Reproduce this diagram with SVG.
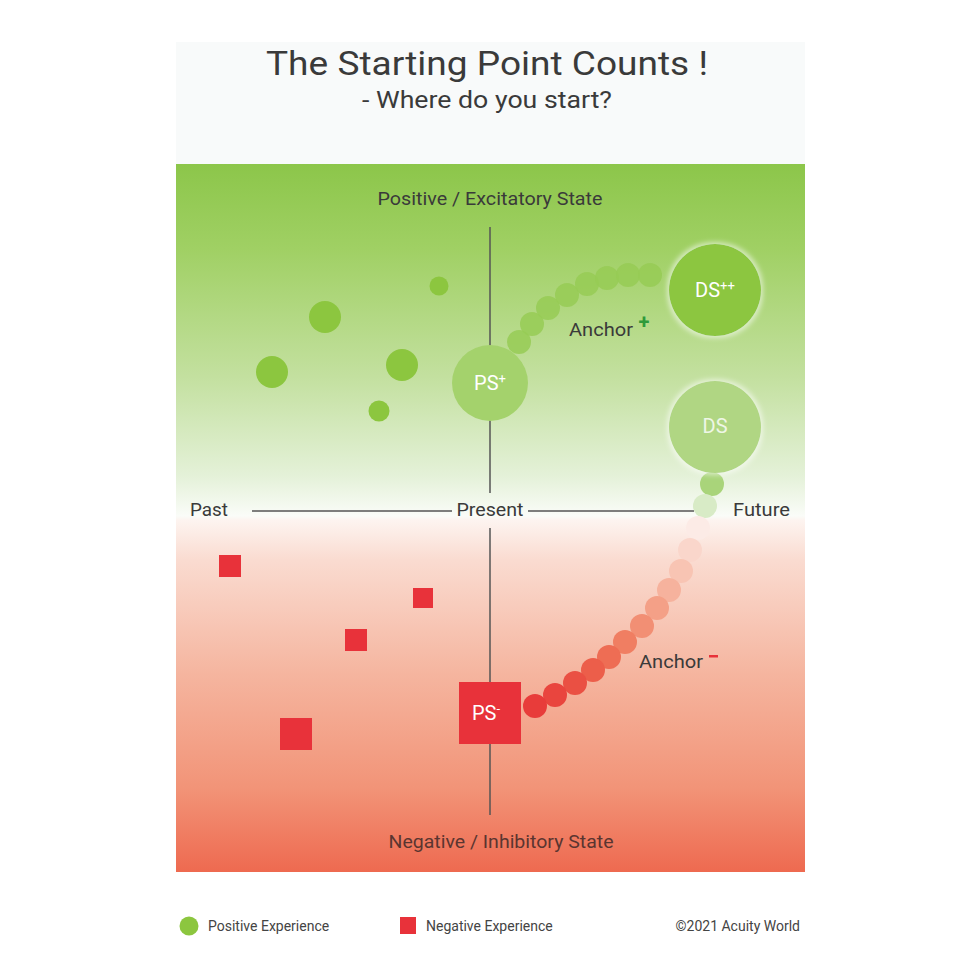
<svg xmlns="http://www.w3.org/2000/svg" width="980" height="980" viewBox="0 0 980 980">
<defs>
<linearGradient id="bg" x1="0" y1="0" x2="0" y2="1">
<stop offset="0" stop-color="#8cc64a"/>
<stop offset="0.12" stop-color="#a0d064"/>
<stop offset="0.3" stop-color="#c3e09f"/>
<stop offset="0.44" stop-color="#e4f1d8"/>
<stop offset="0.497" stop-color="#fafcf8"/>
<stop offset="0.503" stop-color="#fdf4f0"/>
<stop offset="0.56" stop-color="#fadbd0"/>
<stop offset="0.72" stop-color="#f5b59f"/>
<stop offset="0.88" stop-color="#f29478"/>
<stop offset="1" stop-color="#ee6a50"/>
</linearGradient>
<filter id="glow" x="-30%" y="-30%" width="160%" height="160%">
<feMorphology in="SourceAlpha" operator="dilate" radius="1.5" result="d"/>
<feGaussianBlur in="d" stdDeviation="2.5" result="b"/>
<feFlood flood-color="#ffffff" flood-opacity="0.55"/>
<feComposite in2="b" operator="in" result="g"/>
<feMerge><feMergeNode in="g"/><feMergeNode in="SourceGraphic"/></feMerge>
</filter>
<style>
.t{font-family:Roboto,"Liberation Sans",sans-serif;fill:#3a3a3a}
.ax{font-size:18px}
.nl{font-family:Roboto,"Liberation Sans",sans-serif;fill:#ffffff;font-size:20px}
.axis{stroke:#555;stroke-width:1.5;fill:none}
.exp{fill:#8cc63f}
.neg{fill:#e8323a}
.cg{fill:#96cb55;opacity:0.85}
.lg{font-family:Roboto,"Liberation Sans",sans-serif;font-size:14px;fill:#444}
</style>
</defs>
<rect x="0" y="0" width="980" height="980" fill="#ffffff"/>
<rect x="176" y="42" width="629" height="122" fill="#f8fafa"/>
<rect x="176" y="164" width="629" height="708" fill="url(#bg)"/>

<g id="title">
<text class="t" x="487" y="75" text-anchor="middle" font-size="34" textLength="442" lengthAdjust="spacingAndGlyphs">The Starting Point Counts !</text>
<text class="t" x="487" y="108" text-anchor="middle" font-size="24" textLength="250" lengthAdjust="spacingAndGlyphs">- Where do you start?</text>
</g>

<g id="axes">
<line class="axis" x1="490" y1="227" x2="490" y2="493"/>
<line class="axis" x1="490" y1="528" x2="490" y2="815"/>
<line class="axis" x1="252" y1="511" x2="452" y2="511"/>
<line class="axis" x1="528" y1="511" x2="694" y2="511"/>
<text class="t ax" x="490" y="205" text-anchor="middle" textLength="225" lengthAdjust="spacingAndGlyphs">Positive / Excitatory State</text>
<text class="t ax" x="190" y="516" textLength="38" lengthAdjust="spacingAndGlyphs">Past</text>
<text class="t ax" x="490" y="516" text-anchor="middle" textLength="67" lengthAdjust="spacingAndGlyphs">Present</text>
<text class="t ax" x="733" y="516" textLength="57" lengthAdjust="spacingAndGlyphs">Future</text>
<text class="t ax" x="501" y="848" text-anchor="middle" textLength="225" lengthAdjust="spacingAndGlyphs" style="fill:#5a3530">Negative / Inhibitory State</text>
</g>

<g id="positive-experiences">
<circle class="exp" cx="439" cy="286" r="9.5"/>
<circle class="exp" cx="325" cy="317" r="16"/>
<circle class="exp" cx="272" cy="372" r="16"/>
<circle class="exp" cx="402" cy="365" r="16"/>
<circle class="exp" cx="379" cy="411" r="10.5"/>
</g>

<g id="negative-experiences">
<rect class="neg" x="219" y="555" width="22" height="22"/>
<rect class="neg" x="413" y="588" width="20" height="20"/>
<rect class="neg" x="345" y="629" width="22" height="22"/>
<rect class="neg" x="280" y="718" width="32" height="32"/>
</g>

<g id="connectors">
<g id="anchor-plus-chain">
<circle class="cg" cx="519" cy="342" r="12"/>
<circle class="cg" cx="532" cy="324" r="12"/>
<circle class="cg" cx="548" cy="308" r="12"/>
<circle class="cg" cx="567" cy="295" r="12"/>
<circle class="cg" cx="587" cy="284" r="12"/>
<circle class="cg" cx="607" cy="278" r="12"/>
<circle class="cg" cx="628" cy="275" r="12"/>
<circle class="cg" cx="650" cy="275" r="12"/>
</g>
<g id="anchor-minus-chain">
<circle cx="712" cy="484" r="12" fill="#a9d47a"/>
<circle cx="705" cy="506" r="12" fill="#d8ebc6"/>
<circle cx="698" cy="528" r="12" fill="#fcebe6"/>
<circle cx="690" cy="550" r="12" fill="#fad6cb"/>
<circle cx="681" cy="571" r="12" fill="#f8c4b3"/>
<circle cx="669" cy="590" r="12" fill="#f6b29d"/>
<circle cx="657" cy="608" r="12" fill="#f4a087"/>
<circle cx="642" cy="626" r="12" fill="#f28f74"/>
<circle cx="625" cy="642" r="12" fill="#f07e62"/>
<circle cx="609" cy="657" r="12" fill="#ee6d54"/>
<circle cx="593" cy="670" r="12" fill="#ec5e4a"/>
<circle cx="575" cy="683" r="12" fill="#ea5043"/>
<circle cx="555" cy="695" r="12" fill="#e9453e"/>
<circle cx="535" cy="706" r="12" fill="#e83c3a"/>
</g>
<text class="t" x="569" y="336" font-size="18" textLength="64" lengthAdjust="spacingAndGlyphs">Anchor</text>
<text x="644" y="329" font-family="Roboto,'Liberation Sans',sans-serif" font-size="20" font-weight="bold" fill="#2e9a3a" text-anchor="middle">+</text>
<text class="t" x="639" y="668" font-size="18" textLength="64" lengthAdjust="spacingAndGlyphs">Anchor</text>
<rect x="709" y="655" width="9" height="2.5" fill="#e8323a"/>
</g>

<g id="ps-plus">
<circle cx="490" cy="383" r="38" fill="#a4d26c"/>
<text class="nl" x="490" y="390" text-anchor="middle">PS<tspan font-size="13" dy="-7">+</tspan></text>
</g>

<g id="ds-plus-plus">
<circle cx="715" cy="290" r="46" fill="#8cc63f" filter="url(#glow)"/>
<text class="nl" x="715" y="297" text-anchor="middle">DS<tspan font-size="13" dy="-7">++</tspan></text>
</g>

<g id="ds">
<circle cx="715" cy="427" r="46" fill="#b0d683" filter="url(#glow)"/>
<text class="nl" x="715" y="433" text-anchor="middle" style="fill:#eef6e6">DS</text>
</g>

<g id="ps-minus">
<rect x="459" y="682" width="62" height="62" fill="#e8323a"/>
<text class="nl" x="486" y="720" text-anchor="middle">PS<tspan font-size="13" dy="-7">-</tspan></text>
</g>

<g id="legend">
<circle cx="189" cy="926" r="9.5" fill="#8cc63f"/>
<text class="lg" x="208" y="931">Positive Experience</text>
<rect x="400" y="917" width="16" height="17" fill="#e8323a"/>
<text class="lg" x="426" y="931">Negative Experience</text>
<text class="lg" x="800" y="931" text-anchor="end">©2021 Acuity World</text>
</g>
</svg>
